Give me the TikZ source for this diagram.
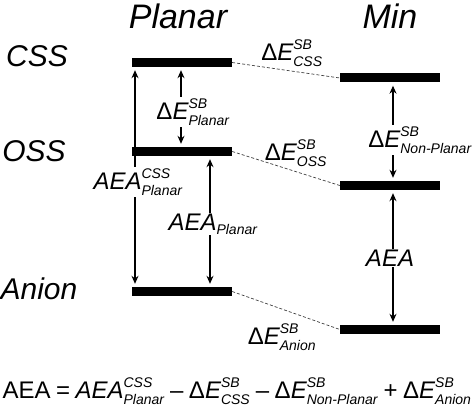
\documentclass[tikz,border=0pt]{standalone}
\usepackage{amsmath}
\usepackage{fontspec}
\setmainfont{Liberation Sans}
\DeclareMathSizes{24}{24}{14}{10}
\usetikzlibrary{arrows.meta}
\newcommand{\lbl}[3]{$\text{#1}^{\text{#2}}_{\text{#3}}$}
\newcommand{\dE}{{\upshape Δ}E}
\newcommand{\op}[1]{\mskip4mu\text{\upshape#1}\mskip4mu}
\begin{document}
\begin{tikzpicture}[x=1pt,y=-1pt,
    bar/.style={fill=black,minimum width=100pt,minimum height=9pt,inner sep=0pt},
    dbl/.style={line width=1.2pt,{Stealth[length=8pt,width=7pt]}-{Stealth[length=8pt,width=7pt]},shorten <=3pt,shorten >=3pt},
    lab/.style={fill=white,inner sep=1pt,font=\fontsize{24}{28}\selectfont\itshape},
    dlab/.style={lab,fill=none},
    head/.style={font=\fontsize{34}{40}\selectfont\itshape},
    side/.style={font=\fontsize{30}{36}\selectfont\itshape},
    link/.style={dash pattern=on 3pt off 2pt,line width=0.7pt,black!75}]
            \useasboundingbox (0,0) rectangle (474,412);
            \node[head] (tplanar) at (178,16) {Planar}; % columnas
            \node[head] (tmin) at (390,16) {Min};
            \node[side] (scss) at (37,56) {CSS}; % estados
            \node[side] (soss) at (34,151) {OSS};
            \node[side] (sani) at (39,288.5) {Anion};
            \foreach \n/\y in {css/62.5,oss/151.5,ani/291.5}
            \node[bar] (p\n) at (182,\y) {};
            \foreach \n/\y in {css/78,oss/185.5,ani/329.5}
            \node[bar] (m\n) at (390,\y) {};
            \foreach \n in {css,oss,ani}
            \draw[link] (p\n.east) -- (m\n.west);
            \coordinate (xa) at (135,0);
            \coordinate (xb) at (181,0);
            \coordinate (xc) at (210,0);
            \coordinate (xd) at (393,0);
            \draw[dbl] (pcss.south -| xa) -- (pani.north -| xa);
            \draw[dbl] (pcss.south -| xb) -- (poss.north -| xb);
            \draw[dbl] (poss.south -| xc) -- (pani.north -| xc);
            \draw[dbl] (mcss.south -| xd) -- (moss.north -| xd);
            \draw[dbl] (moss.south -| xd) -- (mani.north -| xd);
            \node[dlab] (lcss) at (292,53) {\lbl{\dE}{SB}{CSS}};
            \node[lab] (lplanar) at (193,112) {\lbl{\dE}{SB}{Planar}};
            \node[lab] (laeacss) at (138,182) {\lbl{AEA}{CSS}{Planar}};
            \node[dlab] (loss) at (296,153) {\lbl{\dE}{SB}{OSS}};
            \node[lab] (laeap) at (213,224) {$\text{AEA}_{\text{Planar}}$};
            \node[lab] (lnonp) at (420,140) {\lbl{\dE}{SB}{Non-Planar}};
            \node[lab] (laea) at (390,258) {AEA};
            \node[dlab] (lani) at (282,337) {\lbl{\dE}{SB}{Anion}};
            \node[dlab] (eq) at (237,391) {$\text{\upshape AEA}\op{=}\text{AEA}^{\text{CSS}}_{\text{Planar}}\op{–}\text{\dE}^{\text{SB}}_{\text{CSS}}\op{–}\text{\dE}^{\text{SB}}_{\text{Non-Planar}}\op{+}\text{\dE}^{\text{SB}}_{\text{Anion}}$};
\end{tikzpicture}
\end{document}
